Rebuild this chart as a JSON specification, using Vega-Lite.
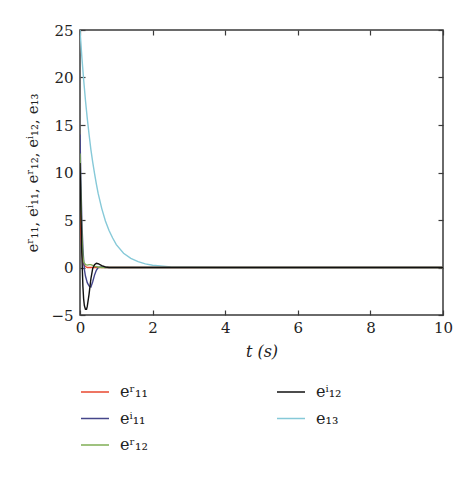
{
  "$schema": "https://vega.github.io/schema/vega-lite/v6.json",
  "width": 363,
  "height": 285,
  "autosize": {"type": "none"},
  "padding": {"left": 80, "top": 30, "right": 31, "bottom": 164},
  "background": "white",
  "config": {
    "view": {"stroke": "#3a3a3a", "strokeWidth": 1.5},
    "font": "DejaVu Serif",
    "axis": {"domain": false, "grid": false, "tickColor": "#3a3a3a", "tickSize": -5, "tickWidth": 1.2, "labelFlush": false,
             "labelFont": "DejaVu Serif", "labelFontSize": 15, "labelColor": "#222",
             "titleFont": "DejaVu Serif", "titleFontWeight": "normal", "titleColor": "#222"}
  },
  "data": {"values": [
    {"t":0,"s":"e13","v":25},{"t":0.05,"s":"e13","v":22.2},{"t":0.1,"s":"e13","v":19.8},{"t":0.15,"s":"e13","v":17.6},{"t":0.2,"s":"e13","v":15.7},{"t":0.25,"s":"e13","v":14.0},{"t":0.3,"s":"e13","v":12.4},{"t":0.35,"s":"e13","v":11.1},{"t":0.4,"s":"e13","v":9.9},{"t":0.45,"s":"e13","v":8.8},{"t":0.5,"s":"e13","v":7.8},{"t":0.6,"s":"e13","v":6.2},{"t":0.7,"s":"e13","v":4.9},{"t":0.8,"s":"e13","v":3.9},{"t":0.9,"s":"e13","v":3.1},{"t":1.0,"s":"e13","v":2.4},{"t":1.2,"s":"e13","v":1.5},{"t":1.4,"s":"e13","v":0.96},{"t":1.6,"s":"e13","v":0.61},{"t":1.8,"s":"e13","v":0.38},{"t":2.0,"s":"e13","v":0.24},{"t":2.5,"s":"e13","v":0.07},{"t":3,"s":"e13","v":0.02},{"t":4,"s":"e13","v":0},{"t":6,"s":"e13","v":0},{"t":8,"s":"e13","v":0},{"t":10,"s":"e13","v":0},

    {"t":0,"s":"e11r","v":6},{"t":0.02,"s":"e11r","v":4},{"t":0.05,"s":"e11r","v":1.8},{"t":0.08,"s":"e11r","v":0.7},{"t":0.1,"s":"e11r","v":0.3},{"t":0.15,"s":"e11r","v":0.1},{"t":0.2,"s":"e11r","v":0},{"t":0.5,"s":"e11r","v":0},{"t":1,"s":"e11r","v":0},{"t":10,"s":"e11r","v":0},

    {"t":0,"s":"e11i","v":14},{"t":0.02,"s":"e11i","v":10},{"t":0.05,"s":"e11i","v":5},{"t":0.08,"s":"e11i","v":2},{"t":0.1,"s":"e11i","v":0.8},{"t":0.12,"s":"e11i","v":-0.2},{"t":0.15,"s":"e11i","v":-0.9},{"t":0.2,"s":"e11i","v":-1.6},{"t":0.25,"s":"e11i","v":-1.95},{"t":0.3,"s":"e11i","v":-2.05},{"t":0.35,"s":"e11i","v":-1.5},{"t":0.4,"s":"e11i","v":-0.8},{"t":0.45,"s":"e11i","v":-0.3},{"t":0.5,"s":"e11i","v":0},{"t":0.6,"s":"e11i","v":0.05},{"t":0.7,"s":"e11i","v":0},{"t":1,"s":"e11i","v":0},{"t":10,"s":"e11i","v":0},

    {"t":0,"s":"e12r","v":12},{"t":0.02,"s":"e12r","v":8},{"t":0.05,"s":"e12r","v":3.5},{"t":0.08,"s":"e12r","v":1.2},{"t":0.1,"s":"e12r","v":0.6},{"t":0.15,"s":"e12r","v":0.3},{"t":0.2,"s":"e12r","v":0.25},{"t":0.25,"s":"e12r","v":0.3},{"t":0.3,"s":"e12r","v":0.3},{"t":0.4,"s":"e12r","v":0.15},{"t":0.5,"s":"e12r","v":0.05},{"t":0.6,"s":"e12r","v":0},{"t":1,"s":"e12r","v":0},{"t":10,"s":"e12r","v":0},

    {"t":0,"s":"e12i","v":11},{"t":0.02,"s":"e12i","v":7},{"t":0.05,"s":"e12i","v":1.5},{"t":0.08,"s":"e12i","v":-2},{"t":0.1,"s":"e12i","v":-3.3},{"t":0.12,"s":"e12i","v":-4.0},{"t":0.15,"s":"e12i","v":-4.4},{"t":0.18,"s":"e12i","v":-4.4},{"t":0.2,"s":"e12i","v":-4.1},{"t":0.25,"s":"e12i","v":-2.8},{"t":0.3,"s":"e12i","v":-1.2},{"t":0.35,"s":"e12i","v":-0.1},{"t":0.4,"s":"e12i","v":0.3},{"t":0.45,"s":"e12i","v":0.45},{"t":0.5,"s":"e12i","v":0.4},{"t":0.6,"s":"e12i","v":0.2},{"t":0.7,"s":"e12i","v":0.05},{"t":0.8,"s":"e12i","v":0},{"t":1,"s":"e12i","v":0},{"t":10,"s":"e12i","v":0}
  ]},
  "resolve": {"axis": {"x": "independent", "y": "independent"}},
  "layer": [
    {
      "mark": {"type": "line", "strokeWidth": 1.4, "clip": true},
      "encoding": {
        "x": {"field": "t", "type": "quantitative", "scale": {"domain": [0, 10], "nice": false},
              "axis": {"values": [0,2,4,6,8,10], "title": "t (s)", "titleFontSize": 16, "titleFontStyle": "italic", "labelPadding": 10, "titlePadding": 8,
                       "labelFont": "DejaVu Serif", "titleFont": "DejaVu Serif", "labelFontSize": 15}},
        "y": {"field": "v", "type": "quantitative", "scale": {"domain": [-5, 25], "nice": false, "zero": false},
              "axis": {"values": [-5,0,5,10,15,20,25], "title": "eʳ₁₁, eⁱ₁₁, eʳ₁₂, eⁱ₁₂, e₁₃", "titleFontSize": 15, "labelPadding": 12, "titlePadding": 10,
                       "labelFont": "DejaVu Serif", "titleFont": "DejaVu Serif", "labelFontSize": 15}},
        "color": {"field": "s", "type": "nominal",
                  "scale": {"domain": ["e11r","e11i","e12r","e12i","e13"], "range": ["#e8472f","#45468a","#7fae55","#111111","#86c9d8"]},
                  "legend": {"orient": "none", "legendX": 0, "legendY": 347, "columns": 2, "columnPadding": 126, "rowPadding": 3.5,
                             "symbolType": "stroke", "symbolSize": 784, "symbolStrokeWidth": 1.5, "labelFontSize": 16, "labelOffset": 10,
                             "title": null, "labelFont": "DejaVu Serif", "labelColor": "#222",
                             "labelExpr": "{'e11r':'eʳ₁₁','e11i':'eⁱ₁₁','e12r':'eʳ₁₂','e12i':'eⁱ₁₂','e13':'e₁₃'}[datum.value]"}}
      }
    },
    {
      "mark": {"type": "line", "opacity": 0},
      "encoding": {
        "x": {"field": "t", "type": "quantitative", "axis": {"orient": "top", "values": [0,2,4,6,8,10], "labels": false, "title": null}},
        "y": {"field": "v", "type": "quantitative", "axis": {"orient": "right", "values": [-5,0,5,10,15,20,25], "labels": false, "title": null}},
        "detail": {"field": "s"}
      }
    }
  ]
}
